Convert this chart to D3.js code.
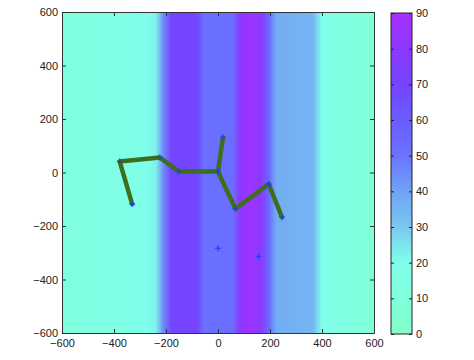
<!DOCTYPE html>
<html><head><meta charset="utf-8">
<script src="https://cdn.jsdelivr.net/npm/d3@7"></script>
<style>body{margin:0;background:#fff}svg{display:block}text{font-family:"Liberation Sans",Arial,sans-serif;font-size:11px;fill:#222}</style>
</head><body>
<svg id="c" width="474" height="360"></svg>
<script>
// Background field: value as a function of x (interpolated shading)
const bgX = [-600, -280, -240, -210, -180, -80, -55, 55, 85, 120, 165, 195, 225, 365, 400, 600];
const bgV = [12, 20, 22, 45, 70, 70, 52, 52, 80, 86, 80, 55, 37, 35, 20, 8];
// Trajectory line
const lineX = [-330, -378, -224, -151, 0, 19, 0, 67, 195, 246];
const lineY = [-118, 41, 56, 4, 4, 131, 4, -136, -43, -167];
// Isolated markers
const ptX = [0, 156];
const ptY = [-283, -314];
// Colormap stops
const cmapV = [0, 10, 20, 30, 40, 50, 60, 70, 80, 90];
const cmapC = ["#80ffc8", "#80ffdc", "#80ffea", "#7ac8f0", "#70a2f6", "#6a74ff", "#6a5cff", "#7444ff", "#8c38ff", "#a830ff"];
const axTicks = [-600, -400, -200, 0, 200, 400, 600];
const cbTicks = [0, 10, 20, 30, 40, 50, 60, 70, 80, 90];

const svg = d3.select("#c");
const L = 62, R = 374, T = 12, B = 333;
const x = d3.scaleLinear().domain([-600, 600]).range([L, R]);
const y = d3.scaleLinear().domain([-600, 600]).range([B, T]);
const color = d3.scaleLinear().domain(cmapV).range(cmapC).clamp(true);

const defs = svg.append("defs");
const g1 = defs.append("linearGradient").attr("id", "bg").attr("x1", "0").attr("x2", "1").attr("y1", "0").attr("y2", "0");
bgX.forEach((xv, i) => g1.append("stop").attr("offset", (x(xv) - L) / (R - L)).attr("stop-color", color(bgV[i])));
svg.append("rect").attr("x", L).attr("y", T).attr("width", R - L).attr("height", B - T).attr("fill", "url(#bg)");

// axes
const xa = svg.append("g").attr("transform", `translate(0,${B})`).call(d3.axisBottom(x).tickValues(axTicks).tickSize(-4).tickPadding(6).tickFormat(d3.format("d")));
const xt = svg.append("g").attr("transform", `translate(0,${T})`).call(d3.axisTop(x).tickValues(axTicks).tickSize(-4).tickFormat(""));
const ya = svg.append("g").attr("transform", `translate(${L},0)`).call(d3.axisLeft(y).tickValues(axTicks).tickSize(-4).tickPadding(4).tickFormat(d3.format("d")));
const yr = svg.append("g").attr("transform", `translate(${R},0)`).call(d3.axisRight(y).tickValues(axTicks).tickSize(-4).tickFormat(""));
[xa, xt, ya, yr].forEach(a => { a.select(".domain").attr("stroke", "#333"); a.selectAll(".tick line").attr("stroke", "#1a3a2a"); a.selectAll("text").attr("font-size", 11).attr("fill", "#222").attr("font-family", "Liberation Sans, Arial, sans-serif"); });
ya.selectAll("text").attr("dy", "0.35em");

// line
const line = d3.line().x(d => x(d[0])).y(d => y(d[1]));
const pts = lineX.map((v, i) => [v, lineY[i]]);
svg.append("path").attr("d", line(pts)).attr("fill", "none").attr("stroke", "#3d6e1c").attr("stroke-width", 4.5).attr("stroke-linejoin", "round").attr("stroke-linecap", "round");
const allPts = pts.concat(ptX.map((v, i) => [v, ptY[i]]));
const m = svg.append("g").attr("stroke", "#1f3cff").attr("stroke-width", 1.2);
allPts.forEach(p => {
  m.append("line").attr("x1", x(p[0]) - 3).attr("x2", x(p[0]) + 3).attr("y1", y(p[1])).attr("y2", y(p[1]));
  m.append("line").attr("x1", x(p[0])).attr("x2", x(p[0])).attr("y1", y(p[1]) - 3).attr("y2", y(p[1]) + 3);
});

// colorbar
const CL = 391, CR = 412;
const cy = d3.scaleLinear().domain([0, 90]).range([334, 13]);
const g2 = defs.append("linearGradient").attr("id", "cb").attr("x1", "0").attr("x2", "0").attr("y1", "1").attr("y2", "0");
cmapV.forEach((v, i) => g2.append("stop").attr("offset", v / 90).attr("stop-color", cmapC[i]));
svg.append("rect").attr("x", CL).attr("y", 13).attr("width", CR - CL).attr("height", 321).attr("fill", "url(#cb)").attr("stroke", "#222").attr("stroke-width", 1);
const ca = svg.append("g").attr("transform", `translate(${CR},0)`).call(d3.axisRight(cy).tickValues(cbTicks).tickSize(-3).tickPadding(4));
ca.select(".domain").remove();
ca.selectAll(".tick line").attr("stroke", "#222");
ca.selectAll("text").attr("font-size", 11).attr("fill", "#222").attr("font-family", "Liberation Sans, Arial, sans-serif");
const cl = svg.append("g").attr("transform", `translate(${CL},0)`).call(d3.axisLeft(cy).tickValues(cbTicks).tickSize(-3).tickFormat(""));
cl.select(".domain").remove();
cl.selectAll(".tick line").attr("stroke", "#222");
</script>
</body></html>
